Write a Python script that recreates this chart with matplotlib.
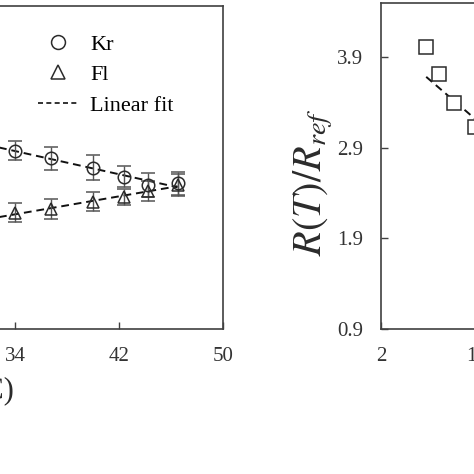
import numpy as np
import matplotlib
matplotlib.use("Agg")
import matplotlib.pyplot as plt

plt.rcParams["font.family"] = ["Liberation Serif", "DejaVu Serif"]
plt.rcParams["mathtext.fontset"] = "stix"

# left panel: temperature (C) vs normalised signal
temp = [34.0, 36.8, 40.0, 42.4, 44.2, 46.5]
kr = [0.862, 0.834, 0.799, 0.766, 0.735, 0.741]
kr_err = [0.035, 0.043, 0.046, 0.039, 0.043, 0.043]
fl = [0.632, 0.646, 0.673, 0.689, 0.714, 0.735]
fl_err = [0.035, 0.036, 0.035, 0.030, 0.037, 0.042]

# right panel: R(T)/Rref
temp2 = [5.8, 6.9, 8.1, 9.9]
ratio = [4.01, 3.72, 3.40, 3.13]
ratio_fit = [-0.113, 4.34]  # slope, intercept of the linear fit

ink = "#2b2b2b"
W = 474.0

fig = plt.figure(figsize=(4.74, 4.74), dpi=100)

# left axes (mostly off the left edge of the crop)
ax1 = fig.add_axes([-401 / W, 1 - 329 / W, 624 / W, 323 / W])
ax1.set_xlim(2, 50)
ax1.set_ylim(0.2, 1.4)
ax1.set_xticks([2, 10, 18, 26, 34, 42, 50])
ax1.set_yticks([])

xs = np.linspace(28, 46.5, 50)
for y, e, m in [(kr, kr_err, "o"), (fl, fl_err, "^")]:
    k = np.polyfit(temp, y, 1)
    ax1.plot(xs, np.polyval(k, xs), color="#111111", lw=1.4, dashes=(4, 2.5))
    ax1.errorbar(temp, y, yerr=e, fmt=m, ms=9, mfc="none", mec=ink, mew=1.1,
                 ecolor="#555555", elinewidth=1.0, capsize=5, capthick=1.0)

h1, = ax1.plot([], [], "o", ms=10, mfc="none", mec=ink, mew=1.1)
h2, = ax1.plot([], [], "^", ms=10, mfc="none", mec=ink, mew=1.1)
h3, = ax1.plot([], [], color="#111111", lw=1.2, dashes=(3, 2))
fig.legend([h1, h2, h3], ["Kr", "Fl", "Linear fit"], loc="upper left",
           bbox_to_anchor=(27 / W, 1 - 23 / W), frameon=False, fontsize=16,
           borderpad=0, handlelength=1.8, handletextpad=0.55, labelspacing=0.45)

ax1.set_xlabel("Temperature (°C)", fontsize=22, color=ink)
ax1.xaxis.set_label_coords(0.494, -0.148)

# right axes (mostly off the right edge)
ax2 = fig.add_axes([381 / W, 1 - 329 / W, 571 / W, 326 / W])
ax2.set_xlim(2, 50)
ax2.set_ylim(0.9, 4.5)
ax2.set_xticks([2, 10, 18, 26, 34, 42, 50])
ax2.set_yticks([0.9, 1.9, 2.9, 3.9])
ax2.set_yticklabels(["0.9", "1.9", "2.9", "3.9"])
xf = np.linspace(5.8, 20, 30)
ax2.plot(xf, ratio_fit[0] * xf + ratio_fit[1], color="#111111", lw=1.4, dashes=(4, 2.5))
ax2.plot(temp2, ratio, "s", ms=10, mfc="white", mec=ink, mew=1.1)
ax2.set_ylabel("$R(T)/R_{ref}$", fontsize=29, color=ink)
ax2.yaxis.set_label_coords(-0.081, 0.45)

for ax in (ax1, ax2):
    for s in ax.spines.values():
        s.set_color("#404040")
        s.set_linewidth(1.2)
    ax.tick_params(direction="in", length=5, width=1.0, color="#404040",
                   labelsize=15, labelcolor="#333333", pad=13)
ax1.tick_params(axis="y", left=False)

fig.savefig("out.png", dpi=100)
